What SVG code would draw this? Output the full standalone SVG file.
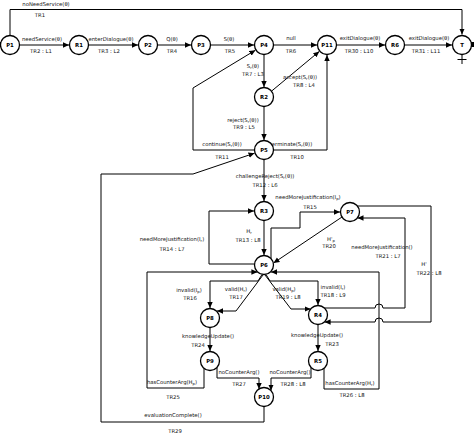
<svg xmlns="http://www.w3.org/2000/svg" width="474" height="433" viewBox="0 0 474 433">
<style>
.n circle{fill:#fff;stroke:#000;stroke-width:1.3}
.n text{font-family:"DejaVu Sans",sans-serif;font-size:5.4px;font-weight:bold;text-anchor:middle;fill:#000}
.e path{fill:none;stroke:#000;stroke-width:1}
.l{font-family:"DejaVu Sans",sans-serif;font-size:5.3px;text-anchor:middle;fill:#111}
.s{font-size:3.8px}
</style>
<defs>
<marker id="a" viewBox="0 0 10 10" refX="10" refY="5" markerWidth="6" markerHeight="6" markerUnits="userSpaceOnUse" orient="auto"><path d="M0,0.5 L10,5 L0,9.5 z" fill="#000"/></marker>
</defs>
<rect width="474" height="433" fill="#fff"/>
<g class="e" id="connectors">
<path marker-end="url(#a)" d="M10,35.5 V9.5 H462 V34.5"/>
<path marker-end="url(#a)" d="M20,45 H69"/>
<path marker-end="url(#a)" d="M89,45 H138"/>
<path marker-end="url(#a)" d="M158,45 H191"/>
<path marker-end="url(#a)" d="M211,45 H254"/>
<path marker-end="url(#a)" d="M274,45 H317"/>
<path marker-end="url(#a)" d="M337,45 H385"/>
<path marker-end="url(#a)" d="M405,45 H452"/>
<path marker-end="url(#a)" d="M264,55 V87"/>
<path marker-end="url(#a)" d="M271.7,91 L319.3,51.4"/>
<path marker-end="url(#a)" d="M264,107 V140"/>
<path marker-end="url(#a)" d="M274,150 H327 V55"/>
<path marker-end="url(#a)" d="M254,150 H193 V88 L255.4,50.2"/>
<path marker-end="url(#a)" d="M264,160 V201"/>
<path marker-end="url(#a)" d="M264,407 V422 H101 V174 H193 L254.5,153.2"/>
<path marker-end="url(#a)" d="M264,221 V255"/>
<path marker-end="url(#a)" d="M254.5,264 H209 V211 H254"/>
<path marker-end="url(#a)" d="M271,258.6 V228 H300 V212 H340"/>
<path marker-end="url(#a)" d="M342,217 L273.5,263"/>
<path marker-end="url(#a)" d="M262,274.5 L258,281 H210 V308"/>
<path marker-end="url(#a)" d="M263,275 L236,311 H217"/>
<path marker-end="url(#a)" d="M265,275 L291,309 H310.7"/>
<path marker-end="url(#a)" d="M266,274.5 L270,281 H318 V305"/>
<path marker-end="url(#a)" d="M210,328 V351"/>
<path marker-end="url(#a)" d="M318,325 V351"/>
<path marker-end="url(#a)" d="M217,367.4 V378 H259 V389"/>
<path marker-end="url(#a)" d="M311,367.4 V378 H271 V390.5"/>
<path marker-end="url(#a)" d="M204,368.3 V388 H147 V272 H257.4"/>
<path marker-end="url(#a)" d="M324,368.3 V389 H379 V272 H271"/>
<path marker-end="url(#a)" d="M324.4,308 H375 A4,4 0 0 1 383,308 H405 V218 H357.5"/>
<path marker-end="url(#a)" d="M357,206 H431 V322 H383 A4,4 0 0 0 375,322 H324.6"/>
<path d="M462,54.5 V64 M457.5,59.5 H466.5"/>
</g>
<rect x="0" y="42" width="2" height="5" fill="#000"/>
<rect x="471" y="42" width="3" height="5" fill="#000"/>
<g id="labels">
<text class="l" x="46" y="6">noNeedService(θ)</text>
<text class="l" x="40" y="17">TR1</text>
<text class="l" x="42" y="40.5">needService(θ)</text>
<text class="l" x="41" y="52.5">TR2 : L1</text>
<text class="l" x="111" y="40.5">enterDialogue(θ)</text>
<text class="l" x="109" y="52.5">TR3 : L2</text>
<text class="l" x="172" y="40.5">Q(θ)</text>
<text class="l" x="172" y="52.5">TR4</text>
<text class="l" x="229" y="40.5">S(θ)</text>
<text class="l" x="230" y="52.5">TR5</text>
<text class="l" x="291" y="40">null</text>
<text class="l" x="291" y="52.5">TR6</text>
<text class="l" x="360" y="40">exitDialogue(θ)</text>
<text class="l" x="359" y="52.5">TR30 : L10</text>
<text class="l" x="429" y="40">exitDialogue(θ)</text>
<text class="l" x="426" y="53">TR31 : L11</text>
<text class="l" x="253" y="68">S<tspan class="s" dy="1">r</tspan><tspan dy="-1">(θ)</tspan></text>
<text class="l" x="253" y="75.5">TR7 : L3</text>
<text class="l" x="300" y="78.5">accept(S<tspan class="s" dy="1">r</tspan><tspan dy="-1">(θ))</tspan></text>
<text class="l" x="304" y="86.5">TR8 : L4</text>
<text class="l" x="243" y="121.5">reject(S<tspan class="s" dy="1">r</tspan><tspan dy="-1">(θ))</tspan></text>
<text class="l" x="244" y="129">TR9 : L5</text>
<text class="l" x="222" y="145.5">continue(S<tspan class="s" dy="1">r</tspan><tspan dy="-1">(θ))</tspan></text>
<text class="l" x="222" y="158.5">TR11</text>
<text class="l" x="291" y="145.5">terminate(S<tspan class="s" dy="1">r</tspan><tspan dy="-1">(θ))</tspan></text>
<text class="l" x="297" y="158.5">TR10</text>
<text class="l" x="265" y="177.5">challengeReject(S<tspan class="s" dy="1">r</tspan><tspan dy="-1">(θ))</tspan></text>
<text class="l" x="265" y="186.5">TR12 : L6</text>
<text class="l" x="308" y="198.5">needMoreJustification(I<tspan class="s" dy="1">p</tspan><tspan dy="-1">)</tspan></text>
<text class="l" x="310" y="208.5">TR15</text>
<text class="l" x="172" y="240.5">needMoreJustification(I<tspan class="s" dy="1">r</tspan><tspan dy="-1">)</tspan></text>
<text class="l" x="172" y="250.5">TR14 : L7</text>
<text class="l" x="249" y="232.5">H<tspan class="s" dy="1">r</tspan></text>
<text class="l" x="248" y="241.5">TR13 : L8</text>
<text class="l" x="331" y="241">H'<tspan class="s" dy="1">p</tspan></text>
<text class="l" x="329" y="248">TR20</text>
<text class="l" x="382" y="248.5">needMoreJustification()</text>
<text class="l" x="388" y="257.5">TR21 : L7</text>
<text class="l" x="424" y="265.5">H'</text>
<text class="l" x="429" y="274.5">TR22 : L8</text>
<text class="l" x="189" y="291.5">invalid(I<tspan class="s" dy="1">p</tspan><tspan dy="-1">)</tspan></text>
<text class="l" x="190" y="299.5">TR16</text>
<text class="l" x="236" y="290.5">valid(H<tspan class="s" dy="1">r</tspan><tspan dy="-1">)</tspan></text>
<text class="l" x="236" y="298.5">TR17</text>
<text class="l" x="284" y="290.5">valid(H<tspan class="s" dy="1">p</tspan><tspan dy="-1">)</tspan></text>
<text class="l" x="288" y="298.5">TR19 : L8</text>
<text class="l" x="333" y="288.5">invalid(I<tspan class="s" dy="1">r</tspan><tspan dy="-1">)</tspan></text>
<text class="l" x="333" y="296.5">TR18 : L9</text>
<text class="l" x="208" y="337.5">knowledgeUpdate()</text>
<text class="l" x="198" y="346.5">TR24</text>
<text class="l" x="317" y="337">knowledgeUpdate()</text>
<text class="l" x="332" y="345.5">TR23</text>
<text class="l" x="239" y="373.5">noCounterArg()</text>
<text class="l" x="239" y="385.5">TR27</text>
<text class="l" x="290" y="373.5">noCounterArg()</text>
<text class="l" x="293" y="385.5">TR28 : L8</text>
<text class="l" x="172" y="383.5">hasCounterArg(H<tspan class="s" dy="1">p</tspan><tspan dy="-1">)</tspan></text>
<text class="l" x="173" y="398.5">TR25</text>
<text class="l" x="350" y="384.5">hasCounterArg(H<tspan class="s" dy="1">r</tspan><tspan dy="-1">)</tspan></text>
<text class="l" x="352" y="396.5">TR26 : L8</text>
<text class="l" x="173" y="416.5">evaluationComplete()</text>
<text class="l" x="175" y="433">TR29</text>
</g>
<g class="n" id="P1"><circle cx="10" cy="45" r="9.5"/><text x="10" y="47">P1</text></g>
<g class="n" id="R1"><circle cx="79" cy="45" r="9.5"/><text x="79" y="47">R1</text></g>
<g class="n" id="P2"><circle cx="148" cy="45" r="9.5"/><text x="148" y="47">P2</text></g>
<g class="n" id="P3"><circle cx="201" cy="45" r="9.5"/><text x="201" y="47">P3</text></g>
<g class="n" id="P4"><circle cx="264" cy="45" r="9.5"/><text x="264" y="47">P4</text></g>
<g class="n" id="P11"><circle cx="327" cy="45" r="9.5"/><text x="327" y="47">P11</text></g>
<g class="n" id="R6"><circle cx="395" cy="45" r="9.5"/><text x="395" y="47">R6</text></g>
<g class="n" id="T"><circle cx="462" cy="45" r="9.5"/><text x="462" y="47">T</text></g>
<g class="n" id="R2"><circle cx="264" cy="97" r="9.5"/><text x="264" y="99">R2</text></g>
<g class="n" id="P5"><circle cx="264" cy="150" r="9.5"/><text x="264" y="152">P5</text></g>
<g class="n" id="R3"><circle cx="264" cy="211" r="9.5"/><text x="264" y="213">R3</text></g>
<g class="n" id="P7"><circle cx="350" cy="212" r="9.5"/><text x="350" y="214">P7</text></g>
<g class="n" id="P6"><circle cx="264" cy="265" r="9.5"/><text x="264" y="267">P6</text></g>
<g class="n" id="P8"><circle cx="210" cy="318" r="9.5"/><text x="210" y="320">P8</text></g>
<g class="n" id="R4"><circle cx="318" cy="315" r="9.5"/><text x="318" y="317">R4</text></g>
<g class="n" id="P9"><circle cx="210" cy="361" r="9.5"/><text x="210" y="363">P9</text></g>
<g class="n" id="R5"><circle cx="318" cy="361" r="9.5"/><text x="318" y="363">R5</text></g>
<g class="n" id="P10"><circle cx="264" cy="397" r="9.5"/><text x="264" y="399">P10</text></g>
</svg>
